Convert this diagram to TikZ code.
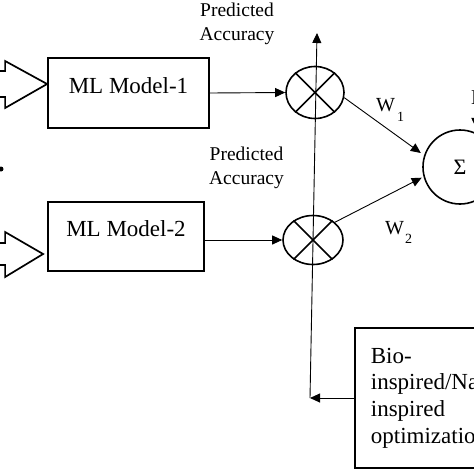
\documentclass[tikz,border=0pt]{standalone}
\usepackage{fontspec}
\setmainfont{Liberation Serif}
\usetikzlibrary{arrows.meta,shapes.geometric,calc}
\begin{document}
\begin{tikzpicture}[x=1pt,y=-1pt,
  box/.style={draw, line width=1.8pt, minimum width=161pt, minimum height=70pt, inner sep=0pt,
    font=\fontsize{23}{27}\selectfont, text height=12pt, text depth=12pt},
  mult/.style={draw, ellipse, line width=1.6pt, inner sep=0pt},
  xline/.style={line width=1.6pt},
  conn/.style={line width=0.9pt, -{Triangle[length=10pt,width=9pt]}},
  hollow/.style={line width=1.7pt, line join=miter},
  lbl/.style={font=\fontsize{19.5}{24}\selectfont, align=center, inner sep=0pt},
  wlbl/.style={anchor=base west, inner sep=0pt, font=\fontsize{20}{20}\selectfont}
]
\useasboundingbox (0,0) rectangle (474,474);

% boxes
\node[box, minimum width=161pt] (ml1) at (128.5,93) {ML Model-1};
\node[box, minimum width=156pt, minimum height=69pt] (ml2) at (126,236.5) {ML Model-2};

% hollow input arrows
\draw[hollow] (ml1.west) ++(-53,-22) -- ++(11,0) -- ++(0,-10) -- ++(42,23) -- ++(-42,24) -- ++(0,-11) -- ++(-11,0);
\draw[hollow] (ml2.west) ++(-53,6.5) -- ++(11,0) -- ++(0,-11) -- ++(38,22) -- ++(-38,23) -- ++(0,-12) -- ++(-11,0);

\node[circle, fill, inner sep=0pt, minimum size=5pt] (dot) at (1,169) {};

% multipliers
\node[mult, minimum width=58pt, minimum height=52pt] (m1) at (315,92.5) {};
\node[mult, minimum width=60pt, minimum height=49pt] (m2) at (313,240) {};
\draw[xline] (m1.45) -- (m1.225) (m1.135) -- (m1.315);
\draw[xline] (m2.45) -- (m2.225) (m2.135) -- (m2.315);

% summation
\node[circle, draw, line width=1.6pt, minimum size=74pt, inner sep=0pt,
  font=\fontsize{22}{22}\selectfont] (sigma) at (460,167) {Σ};

% optimization box
\node[draw, line width=1.8pt, anchor=west, minimum height=140pt, align=left,
  inner xsep=16pt, text width=160pt, font=\fontsize{23}{26.7}\selectfont] (bio) at (354,398)
  {Bio-\\inspired/Nature-\\inspired\\optimization};

% labels
\node[lbl] (pa1) at (237,24) {Predicted\\Accuracy};
\node[lbl] (pa2) at (246.5,167.5) {Predicted\\Accuracy};
\node[wlbl] (w1) at (376,111) {W\kern2pt\raisebox{-10pt}{\fontsize{14}{14}\selectfont 1}};
\node[wlbl] (w2) at (385,234) {W\kern1pt\raisebox{-9pt}{\fontsize{14}{14}\selectfont 2}};
\node[anchor=base west, inner sep=0pt, font=\fontsize{21}{21}\selectfont] (bias) at (471,104) {Bias};

% connectors
\draw[conn] (ml1.east) -- (m1.west);
\draw[conn] (m2.west -| ml2.east) -- (m2.west);
\draw[conn, shorten >=4pt] (m1.-10) -- (sigma.162);
\draw[conn, shorten >=2pt] (m2.39) -- (sigma.195);

\coordinate (corner) at (310,398);
\coordinate (top) at (317,33);
\draw[conn] (bio.west) -- (corner);
\draw[conn] (corner) -- (top);

\coordinate (biastop) at (475.6,100);
\draw[conn, shorten >=5pt] (biastop) -- (sigma.65);
\end{tikzpicture}
\end{document}
